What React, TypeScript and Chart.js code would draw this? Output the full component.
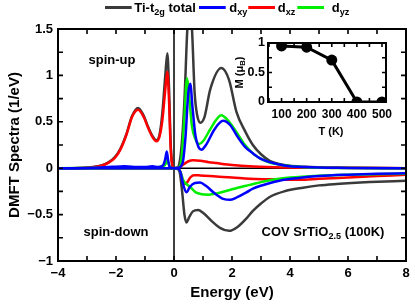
import React, { useEffect, useRef } from 'react';
import { Chart, registerables } from 'chart.js';
Chart.register(...registerables);

const FONT = '"Liberation Sans", Arial, Helvetica, sans-serif';

// ---------- main chart data (energy in eV, spectra in 1/eV) ----------
const totalUpE = [-4, -3.2, -2.8, -2.5, -2.25, -2.04, -1.85, -1.64, -1.45, -1.24, -1.05, -0.9, -0.75, -0.61, -0.5, -0.4, -0.3, -0.23, -0.17, -0.12, -0.06, 0, 0.12, 0.22, 0.3, 0.37, 0.46, 0.54, 0.62, 0.71, 0.8, 0.91, 1.05, 1.25, 1.63, 1.9, 2.15, 2.45, 2.72, 3.0, 3.3, 3.8, 4.5, 6, 8];
const totalUp = [0, 0.003, 0.012, 0.03, 0.065, 0.12, 0.21, 0.37, 0.56, 0.65, 0.57, 0.45, 0.35, 0.3, 0.36, 0.6, 1.0, 1.24, 0.85, 0.3, 0.04, 0, 0.005, 0.12, 0.4, 0.8, 1.5, 1.75, 1.5, 0.82, 0.57, 0.49, 0.55, 0.85, 1.08, 0.95, 0.61, 0.4, 0.25, 0.15, 0.08, 0.035, 0.015, 0.005, 0];

const dxyUpE = [-4, -3, -2.5, -2.1, -1.7, -1.3, -1.0, -0.75, -0.55, -0.38, -0.3, -0.25, -0.2, -0.14, 0, 0.15, 0.3, 0.4, 0.49, 0.56, 0.64, 0.74, 0.84, 0.95, 1.1, 1.4, 1.69, 1.95, 2.15, 2.45, 2.72, 3.0, 3.3, 3.8, 4.5, 6, 8];
const dxyUp = [0, 0.003, 0.008, 0.015, 0.02, 0.014, 0.012, 0.02, 0.012, 0.03, 0.1, 0.18, 0.08, 0.01, 0, 0.005, 0.06, 0.35, 0.8, 0.91, 0.65, 0.35, 0.23, 0.2, 0.25, 0.42, 0.51, 0.46, 0.36, 0.23, 0.16, 0.1, 0.065, 0.03, 0.012, 0.003, 0];

const dxzUpE = [-4, -3.2, -2.8, -2.5, -2.25, -2.04, -1.85, -1.64, -1.45, -1.24, -1.05, -0.9, -0.75, -0.61, -0.5, -0.4, -0.3, -0.23, -0.17, -0.12, -0.06, 0, 0.15, 0.3, 0.5, 0.66, 0.9, 1.2, 1.46, 2, 2.6, 3.5, 5, 8];
const dxzUp = [0, 0.002, 0.01, 0.027, 0.06, 0.11, 0.2, 0.36, 0.55, 0.63, 0.555, 0.44, 0.34, 0.29, 0.34, 0.52, 0.85, 1.04, 0.72, 0.26, 0.03, 0, 0.005, 0.035, 0.075, 0.085, 0.08, 0.065, 0.055, 0.035, 0.02, 0.01, 0.004, 0];

const dyzUpE = [-4, -2, -1, -0.6, -0.35, -0.27, -0.23, -0.18, -0.12, 0, 0.15, 0.25, 0.35, 0.45, 0.53, 0.62, 0.73, 0.87, 1.0, 1.25, 1.45, 1.63, 1.9, 2.15, 2.45, 2.72, 3.0, 3.3, 3.8, 4.5, 6, 8];
const dyzUp = [0, 0.005, 0.006, 0.01, 0.025, 0.06, 0.1, 0.04, 0.005, 0, 0.005, 0.08, 0.5, 0.97, 0.75, 0.45, 0.32, 0.26, 0.29, 0.42, 0.52, 0.57, 0.5, 0.39, 0.25, 0.16, 0.1, 0.06, 0.03, 0.01, 0.002, 0];

const totalDnE = [-4, 0, 0.12, 0.2, 0.28, 0.36, 0.43, 0.52, 0.65, 0.83, 1.0, 1.3, 1.6, 1.9, 2.2, 2.5, 2.72, 3.0, 3.3, 3.8, 4.45, 5.0, 5.6, 6.75, 8];
const totalDn = [0, 0, -0.005, -0.05, -0.25, -0.5, -0.585, -0.53, -0.465, -0.45, -0.48, -0.57, -0.645, -0.675, -0.63, -0.54, -0.46, -0.38, -0.31, -0.25, -0.21, -0.185, -0.17, -0.15, -0.135];

const dxyDnE = [-4, 0, 0.12, 0.22, 0.32, 0.43, 0.55, 0.72, 0.9, 1.1, 1.4, 1.7, 1.95, 2.2, 2.5, 2.72, 3.2, 3.7, 4.3, 5, 6, 7, 8];
const dxyDn = [0, 0, -0.003, -0.04, -0.18, -0.26, -0.2, -0.16, -0.155, -0.19, -0.27, -0.33, -0.34, -0.31, -0.26, -0.22, -0.17, -0.13, -0.105, -0.085, -0.07, -0.06, -0.055];

const dxzDnE = [-4, 0, 0.12, 0.22, 0.3, 0.38, 0.46, 0.56, 0.68, 0.9, 1.46, 2, 2.6, 3.3, 4.3, 5, 6, 7, 8];
const dxzDn = [0, 0, -0.003, -0.04, -0.13, -0.17, -0.15, -0.1, -0.075, -0.078, -0.09, -0.1, -0.115, -0.12, -0.125, -0.115, -0.1, -0.085, -0.07];

const dyzDnE = [-4, 0, 0.12, 0.22, 0.32, 0.42, 0.55, 0.75, 0.95, 1.2, 1.5, 1.86, 2.2, 2.61, 3.0, 3.5, 4, 5, 6, 8];
const dyzDn = [0, 0, -0.003, -0.04, -0.13, -0.17, -0.2, -0.26, -0.28, -0.285, -0.27, -0.24, -0.21, -0.18, -0.15, -0.12, -0.1, -0.08, -0.07, -0.06];

const energyTicks = [-4, -3, -2, -1, 0, 1, 2, 3, 4, 5, 6, 7, 8];
const spectraTicks = [-1, -0.75, -0.5, -0.25, 0, 0.25, 0.5, 0.75, 1, 1.25, 1.5];

// ---------- inset data ----------
const insetT = [100, 200, 300, 400, 500];
const insetM = [0.95, 0.93, 0.71, 0, 0];
const insetTTicks = [50, 100, 150, 200, 250, 300, 350, 400, 450, 500];
const insetMTicks = [0, 0.25, 0.5, 0.75, 1];

const GRAY = '#3a3a3a';
const BLUE = '#0000ff';
const RED = '#ff0000';
const GREEN = '#00ee00';

const pts = (xs: number[], ys: number[]) => xs.map((x, i) => ({ x, y: ys[i] }));
const minus = (s: string) => s.replace('-', '\u2212');

type Part = [string, boolean];
function richWidth(ctx: CanvasRenderingContext2D, parts: Part[], size: number) {
  let w = 0;
  for (const [t, sub] of parts) {
    ctx.font = `bold ${sub ? size * 0.7 : size}px ${FONT}`;
    w += ctx.measureText(t).width;
  }
  return w;
}
function drawRich(ctx: CanvasRenderingContext2D, parts: Part[], x: number, y: number, size: number) {
  let cx = x;
  ctx.textAlign = 'left';
  ctx.textBaseline = 'alphabetic';
  for (const [t, sub] of parts) {
    ctx.font = `bold ${sub ? size * 0.7 : size}px ${FONT}`;
    ctx.fillText(t, cx, sub ? y + size * 0.22 : y);
    cx += ctx.measureText(t).width;
  }
}

const mainDecor = {
  id: 'mainDecor',
  beforeDatasetsDraw(chart: any) {
    const { ctx, chartArea, scales } = chart;
    const { left, right, top, bottom } = chartArea;
    const x0 = scales.x.getPixelForValue(0);
    const y0 = scales.y.getPixelForValue(0);
    ctx.save();
    ctx.strokeStyle = '#000';
    ctx.lineWidth = 1.5;
    ctx.beginPath();
    ctx.moveTo(left, y0); ctx.lineTo(right, y0);
    ctx.moveTo(x0, top); ctx.lineTo(x0, bottom);
    ctx.stroke();
    ctx.restore();
  },
  afterDatasetsDraw(chart: any) {
    const { ctx, chartArea, scales } = chart;
    const { left, right, top, bottom } = chartArea;
    ctx.save();
    ctx.strokeStyle = '#000';
    ctx.lineWidth = 1.6;
    ctx.beginPath();
    for (const t of scales.x.ticks) {
      const p = scales.x.getPixelForValue(t.value);
      ctx.moveTo(p, bottom); ctx.lineTo(p, bottom - 5);
      ctx.moveTo(p, top); ctx.lineTo(p, top + 5);
    }
    for (const t of scales.y.ticks) {
      const p = scales.y.getPixelForValue(t.value);
      ctx.moveTo(left, p); ctx.lineTo(left + 5, p);
      ctx.moveTo(right, p); ctx.lineTo(right - 5, p);
    }
    ctx.stroke();
    ctx.lineWidth = 2;
    ctx.strokeRect(left, top, right - left, bottom - top);

    ctx.fillStyle = '#000';
    ctx.font = `bold 15px ${FONT}`;
    ctx.textAlign = 'center';
    ctx.textBaseline = 'middle';
    ctx.fillText('Energy (eV)', (left + right) / 2, 293);
    ctx.save();
    ctx.translate(14.5, (top + bottom) / 2);
    ctx.rotate(-Math.PI / 2);
    ctx.fillText('DMFT Spectra (1/eV)', 0, 0);
    ctx.restore();

    drawRich(ctx, [['spin-up', false]], 88.5, 64, 13);
    drawRich(ctx, [['spin-down', false]], 83.5, 236, 13);
    drawRich(ctx, [['COV SrTiO', false], ['2.5', true], [' (100K)', false]], 261.5, 236.3, 13);

    const items: [string, number, number, number, Part[]][] = [
      [GRAY, 105, 131.7, 134.3, [['Ti-t', false], ['2g', true], [' total', false]]],
      [BLUE, 199, 225.7, 229.3, [['d', false], ['xy', true]]],
      [RED, 248.3, 275, 277.7, [['d', false], ['xz', true]]],
      [GREEN, 297.3, 324, 331.7, [['d', false], ['yz', true]]],
    ];
    for (const [c, x1, x2, tx, parts] of items) {
      ctx.strokeStyle = c;
      ctx.lineWidth = 3;
      ctx.beginPath();
      ctx.moveTo(x1, 7.5); ctx.lineTo(x2, 7.5);
      ctx.stroke();
      ctx.fillStyle = '#000';
      drawRich(ctx, parts, tx, 12, 13);
    }
    ctx.restore();
  },
};

const insetDecor = {
  id: 'insetDecor',
  beforeDatasetsDraw(chart: any) {
    const { ctx, chartArea } = chart;
    const { left, right, top, bottom } = chartArea;
    ctx.save();
    ctx.beginPath();
    ctx.rect(left, top, right - left, bottom - top);
    ctx.clip();
  },
  afterDatasetsDraw(chart: any) {
    const { ctx, chartArea, scales } = chart;
    ctx.restore();
    const { left, right, top, bottom } = chartArea;
    ctx.save();
    ctx.strokeStyle = '#000';
    ctx.lineWidth = 1.6;
    ctx.beginPath();
    for (const t of scales.x.ticks) {
      const p = scales.x.getPixelForValue(t.value);
      ctx.moveTo(p, bottom); ctx.lineTo(p, bottom - 4);
      ctx.moveTo(p, top); ctx.lineTo(p, top + 4);
    }
    for (const t of scales.y.ticks) {
      const p = scales.y.getPixelForValue(t.value);
      ctx.moveTo(left, p); ctx.lineTo(left + 4, p);
      ctx.moveTo(right, p); ctx.lineTo(right - 4, p);
    }
    ctx.stroke();
    ctx.lineWidth = 2;
    ctx.strokeRect(left, top, right - left, bottom - top);
    ctx.fillStyle = '#000';
    ctx.font = `bold 11px ${FONT}`;
    ctx.textAlign = 'center';
    ctx.textBaseline = 'middle';
    ctx.fillText('T (K)', (left + right) / 2 + 4, 131.5);
    const parts: Part[] = [['M (\u03bc', false], ['B', true], [')', false]];
    const w = richWidth(ctx, parts, 11);
    ctx.save();
    ctx.translate(243, (top + bottom) / 2);
    ctx.rotate(-Math.PI / 2);
    drawRich(ctx, parts, -w / 2, 0, 11);
    ctx.restore();
    ctx.restore();
  },
};

const tickFont = { family: FONT, size: 13, weight: 'bold' as const };

export default function App() {
  const mainRef = useRef<HTMLCanvasElement>(null);
  const insetRef = useRef<HTMLCanvasElement>(null);

  useEffect(() => {
    document.body.style.margin = '0';
    const line = (data: any, color: string, order: number) => ({
      data,
      borderColor: color,
      backgroundColor: color,
      borderWidth: 2.5,
      pointRadius: 0,
      cubicInterpolationMode: 'monotone',
      fill: false,
      order,
    });
    const main = new Chart(mainRef.current!, {
      type: 'line',
      data: {
        datasets: [
          line(pts(totalUpE, totalUp), GRAY, 3),
          line(pts(totalDnE, totalDn), GRAY, 3),
          line(pts(dxzUpE, dxzUp), RED, 2),
          line(pts(dxzDnE, dxzDn), RED, 2),
          line(pts(dyzUpE, dyzUp), GREEN, 1),
          line(pts(dyzDnE, dyzDn), GREEN, 1),
          line(pts(dxyUpE, dxyUp), BLUE, 0),
          line(pts(dxyDnE, dxyDn), BLUE, 0),
        ] as any,
      },
      options: {
        animation: false,
        responsive: false,
        devicePixelRatio: 1,
        events: [],
        layout: { padding: { left: 0, right: 9, top: 29, bottom: 0 } },
        plugins: { legend: { display: false }, tooltip: { enabled: false } },
        scales: {
          x: {
            type: 'linear',
            min: -4,
            max: 8,
            afterBuildTicks: (s: any) => { s.ticks = energyTicks.map((v) => ({ value: v })); },
            afterFit: (s: any) => { s.height = 45; },
            grid: { display: false, drawTicks: false },
            border: { display: false },
            ticks: {
              autoSkip: false,
              maxRotation: 0,
              padding: 5,
              color: '#000',
              font: tickFont,
              callback: (v: any) => (Math.abs(v % 2) < 1e-9 ? minus(String(v)) : ''),
            },
          },
          y: {
            type: 'linear',
            min: -1,
            max: 1.5,
            afterBuildTicks: (s: any) => { s.ticks = spectraTicks.map((v) => ({ value: v })); },
            afterFit: (s: any) => { s.width = 58; },
            grid: { display: false, drawTicks: false },
            border: { display: false },
            ticks: {
              autoSkip: false,
              padding: 5,
              color: '#000',
              font: tickFont,
              callback: (v: any) => (Math.abs((v * 2) % 1) < 1e-9 ? minus(String(v)) : ''),
            },
          },
        },
      } as any,
      plugins: [mainDecor],
    });

    const inset = new Chart(insetRef.current!, {
      type: 'line',
      data: {
        datasets: [
          {
            data: pts(insetT, insetM),
            borderColor: '#000',
            backgroundColor: '#000',
            borderWidth: 3,
            pointRadius: 5.5,
            pointBackgroundColor: '#000',
            pointBorderColor: '#000',
            pointBorderWidth: 0,
            tension: 0,
            clip: 0,
          },
        ] as any,
      },
      options: {
        animation: false,
        responsive: false,
        devicePixelRatio: 1,
        events: [],
        layout: { padding: { left: 238, right: 29, top: 43, bottom: 164 } },
        plugins: { legend: { display: false }, tooltip: { enabled: false } },
        scales: {
          x: {
            type: 'linear',
            min: 46,
            max: 516,
            afterBuildTicks: (s: any) => { s.ticks = insetTTicks.map((v) => ({ value: v })); },
            afterFit: (s: any) => { s.height = 40; },
            grid: { display: false, drawTicks: false },
            border: { display: false },
            ticks: {
              autoSkip: false,
              maxRotation: 0,
              padding: 5,
              color: '#000',
              font: { family: FONT, size: 12, weight: 'bold' },
              callback: (v: any) => (v % 100 === 0 ? String(v) : ''),
            },
          },
          y: {
            type: 'linear',
            min: 0,
            max: 1,
            afterBuildTicks: (s: any) => { s.ticks = insetMTicks.map((v) => ({ value: v })); },
            afterFit: (s: any) => { s.width = 30; },
            grid: { display: false, drawTicks: false },
            border: { display: false },
            ticks: {
              autoSkip: false,
              padding: 3,
              color: '#000',
              font: { family: FONT, size: 12.5, weight: 'bold' },
              callback: (v: any) => (Math.abs((v * 2) % 1) < 1e-9 ? String(v) : ''),
            },
          },
        },
      } as any,
      plugins: [insetDecor],
    });

    return () => {
      main.destroy();
      inset.destroy();
    };
  }, []);

  return (
    <div style={{ position: 'fixed', left: 0, top: 0, width: 415, height: 306, background: '#fff' }}>
      <canvas ref={mainRef} width={415} height={306} style={{ position: 'absolute', left: 0, top: 0, display: 'block' }} />
      <canvas ref={insetRef} width={415} height={306} style={{ position: 'absolute', left: 0, top: 0, display: 'block' }} />
    </div>
  );
}
